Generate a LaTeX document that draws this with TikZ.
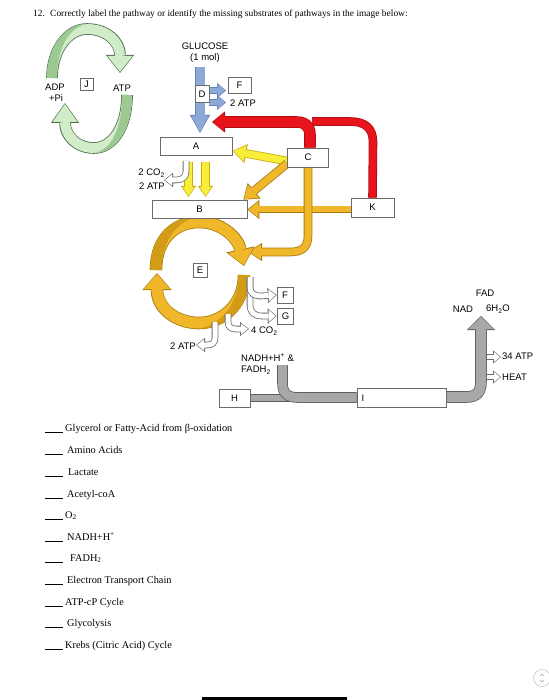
\documentclass[tikz,border=0pt]{standalone}
\usepackage{fontspec}
\setmainfont{Liberation Serif}
\newfontfamily\arial{Liberation Sans}
\usetikzlibrary{arrows.meta}
\pgfdeclarelayer{bg}
\pgfdeclarelayer{paper}
\pgfsetlayers{paper,bg,main}
\definecolor{grfill}{HTML}{D0ECC8}
\definecolor{grdark}{HTML}{9CC992}
\definecolor{grout}{HTML}{4F6F4C}
\definecolor{blfill}{HTML}{8DA9D8}
\definecolor{blout}{HTML}{6482B8}
\definecolor{rdfill}{HTML}{E8141C}
\definecolor{rdout}{HTML}{B00D12}
\definecolor{yefill}{HTML}{F8EE3A}
\definecolor{yeout}{HTML}{C9AE12}
\definecolor{orfill}{HTML}{F0B72A}
\definecolor{ordark}{HTML}{D29C17}
\definecolor{orout}{HTML}{A87C0C}
\definecolor{gyfill}{HTML}{A8A8A8}
\definecolor{gyout}{HTML}{5E5E5E}
\definecolor{whout}{HTML}{6E6E6E}
\definecolor{boxout}{HTML}{6A6A6A}
\newcommand\rib[6]{%
  \pgfmathsetmacro\ribwo{#3+1.6}%
  \pgfmathsetmacro\riblo{#4+2}%
  \pgfmathsetmacro\ribWo{#5+3.2}%
  \draw[draw=#2, line width=\ribwo pt, line join=round, -{Triangle[line width=0pt,length=\riblo pt,width=\ribWo pt]}] #6;
  \draw[draw=#1, line width=#3pt, line join=round, shorten >=1pt, -{Triangle[line width=0pt,length=#4pt,width=#5pt]}] #6;
}
\newcommand\ribn[4]{%
  \pgfmathsetmacro\ribwo{#3+1.6}%
  \draw[draw=#2, line width=\ribwo pt, line join=round] #4;
  \draw[draw=#1, line width=#3pt, line join=round] #4;
}
\tikzset{
  bx/.style={draw=boxout, fill=white, line width=0.7pt, inner sep=0pt, font=\arial\fontsize{9.5}{10}\selectfont},
  lab/.style={inner sep=0pt, font=\arial\fontsize{9.5}{10}\selectfont},
  item/.style={anchor=base west, inner sep=0pt, font=\fontsize{10.3}{12}\selectfont},
  ttl/.style={anchor=base west, inner sep=0pt, font=\fontsize{9.45}{11}\selectfont}
}
\begin{document}
\begin{tikzpicture}[x=1pt,y=-1pt]
\useasboundingbox (0,0) rectangle (548,700);
\begin{pgfonlayer}{paper}
\fill[white] (0,0) rectangle (548,700);
\end{pgfonlayer}

% title
\node[ttl] (title) at (33,17) {12.\hspace{0.55em}Correctly label the pathway or identify the missing substrates of pathways in the image below:};

% boxes
\node[bx, minimum width=13pt, minimum height=12pt] (J) at (86.5,84) {J};
\node[bx, minimum width=14pt, minimum height=17pt] (D) at (202,94) {D};
\node[bx, minimum width=23pt, minimum height=16pt] (F1) at (239.5,85) {F};
\node[bx, minimum width=72pt, minimum height=18pt] (A) at (196,146) {A};
\node[bx, minimum width=95pt, minimum height=18pt] (B) at (199.5,209) {B};
\node[bx, minimum width=41pt, minimum height=19pt] (C) at (308,157.5) {C};
\node[bx, minimum width=43pt, minimum height=19pt] (K) at (372.5,207.5) {K};
\node[bx, minimum width=14pt, minimum height=14pt] (E) at (200,270) {E};
\node[bx, minimum width=16pt, minimum height=16pt] (F2) at (285,295) {F};
\node[bx, minimum width=16pt, minimum height=16pt] (G) at (285.5,316) {G};
\node[bx, minimum width=31pt, minimum height=18pt] (H) at (234.5,398) {H};
\node[bx, minimum width=89pt, minimum height=19pt] (I) at (401.5,398) {};
\node[lab] (Ilab) at (363,398) {I};

% labels
\node[lab] (glu) at (205,46) {GLUCOSE};
\node[lab] (mol) at (205,58) {(1 mol)};
\node[lab] (atp1) at (243,103) {2 ATP};
\node[lab] (adp) at (55,87) {ADP};
\node[lab] (pi) at (56,98) {+Pi};
\node[lab] (atp0) at (122,88) {ATP};
\node[lab, anchor=east] (co2a) at (165,173) {2 CO\textsubscript{2}};
\node[lab, anchor=east] (atp2) at (165,186) {2 ATP};
\node[lab, anchor=east] (atp3) at (196,346) {2 ATP};
\node[lab, anchor=west] (co2b) at (251,331) {4 CO\textsubscript{2}};
\node[lab, anchor=west] (nadh) at (241,358) {NADH+H\textsuperscript{+} \&};
\node[lab, anchor=west] (fadh) at (241,370) {FADH\textsubscript{2}};
\node[lab] (fad) at (485,293) {FAD};
\node[lab] (nad) at (463,309) {NAD};
\node[lab] (h2o) at (498,309) {6H\textsubscript{2}O};
\node[lab, anchor=west] (atp34) at (502,356) {34 ATP};
\node[lab, anchor=west] (heat) at (502,377) {HEAT};

\begin{pgfonlayer}{bg}
% ATP-cP cycle
\rib{grfill}{grout}{10}{16}{25}{(52,78) .. controls (52,50) and (68,29) .. (87,29) .. controls (107,29) and (120,42) .. (120,73)}
\fill[grdark] (47,78) .. controls (47,47) and (65,24) .. (87,24) .. controls (68,27) and (57,50) .. (57,78) -- cycle;
\rib{grfill}{grout}{10}{18}{25}{(127,95) .. controls (127,128) and (112,148) .. (94,148) .. controls (76,148) and (65,135) .. (65,103)}
\fill[grdark] (132,95) .. controls (132,131) and (115,153) .. (94,153) .. controls (112,150) and (122,128) .. (122,95) -- cycle;
% glycolysis
\rib{blfill}{blout}{9}{16}{17}{(200,67) -- (200,133)}
\rib{blfill}{blout}{5}{7}{12}{(D.east |- 0,90.5) -- (226,90.5)}
\rib{blfill}{blout}{5}{7}{12}{(D.east |- 0,102.5) -- (226,102.5)}
% red
\ribn{rdfill}{rdout}{7}{(K.north) -- (373,142) .. controls (373,128) and (365,121.5) .. (350,121.5) -- (312,121.5)}
\rib{rdfill}{rdout}{10}{11}{18}{([xshift=2pt]C.north) -- (310,135) .. controls (310,126) and (305,122) .. (296,122) -- (212,122)}
% yellow / orange
\rib{yefill}{yeout}{7}{12}{16}{([yshift=-3.5pt]C.west) -- ([yshift=-5pt]A.east)}
\rib{orfill}{orout}{7}{12}{17}{([yshift=-6pt]C.west) -- ([xshift=-4pt]B.north east)}
\rib{orfill}{orout}{6}{10}{16}{([yshift=-2pt]K.west) -- ([yshift=-0.5pt]B.east)}
\rib{orfill}{orout}{7}{12}{15}{(C.south) -- (308,236) .. controls (308,248) and (301,252) .. (290,252) -- (248,252)}
\rib{yefill}{yeout}{7}{9}{12}{(188.5,162) -- (188.5,197)}
\rib{yefill}{yeout}{7}{9}{12}{(205.5,162) -- (205.5,197)}
\rib{white}{whout}{5}{7}{11}{(186,161) -- (186,172) .. controls (186,177) and (182,180) .. (176,180) -- (164,180)}
% Krebs
\rib{orfill}{orout}{11}{15}{26}{(156,270) .. controls (156,238) and (176,222) .. (199,222) .. controls (222,222) and (238,238) .. (244,266)}
\fill[ordark] (150.5,270) .. controls (150.5,235) and (173,216.5) .. (199,216.5) .. controls (178,220) and (161.5,240) .. (161.5,270) -- cycle;
\rib{orfill}{orout}{11}{15}{26}{(244,275) .. controls (244,305) and (222,323) .. (199,323) .. controls (176,323) and (157,308) .. (157,273)}
\fill[ordark] (249.5,275) .. controls (249.5,309) and (225,328.5) .. (199,328.5) .. controls (220,325) and (238.5,305) .. (238.5,275) -- cycle;
\rib{white}{whout}{5}{7}{12}{(250,277) -- (250,305) .. controls (250,312) and (254,316) .. (262,316) -- (F2.west |- G.west)}
\rib{white}{whout}{5}{7}{12}{(250,277) -- (250,287) .. controls (250,293) and (254,296) .. (260,296) -- (F2.west)}
\rib{white}{whout}{5}{7}{11}{(228,314) -- (228,322) .. controls (228,327) and (231,329) .. (236,329) -- (249,329)}
\rib{white}{whout}{5}{7}{11}{(215,322) -- (215,338) .. controls (215,343) and (212,345) .. (207,345) -- (196,345)}
% ETC
\ribn{gyfill}{gyout}{6}{(H.east) -- (I.west)}
\ribn{gyfill}{gyout}{9}{(282.5,365) -- (282.5,383) .. controls (282.5,393) and (287,397.5) .. (298,397.5) -- (I.west |- 0,397.5)}
\rib{gyfill}{gyout}{10}{12}{25}{(I.east |- 0,397) -- (466,397) .. controls (477,397) and (481,392) .. (481,381) -- (481,316)}
\rib{white}{whout}{4}{6}{10}{(487,357) -- (501,357)}
\rib{white}{whout}{4}{6}{10}{(487,377) -- (501,377)}
\end{pgfonlayer}

% list
\foreach \y/\x/\t [count=\i] in {
 431/65/{Glycerol or Fatty-Acid from β-oxidation},
 453/67/{Amino Acids},
 475/68/{Lactate},
 497/67/{Acetyl-coA},
 518/65/{O\textsubscript{2}},
 540/67/{NADH+H\textsuperscript{+}},
 561/70/{FADH\textsubscript{2}},
 583/67/{Electron Transport Chain},
 605/65/{ATP-cP Cycle},
 626/67/{Glycolysis},
 648/65/{Krebs (Citric Acid) Cycle}}{
  \node[item] (item\i) at (\x,\y) {\t};
  \draw[line width=0.6pt] (45,{\y+0.8}) -- (63,{\y+0.8});
}

% bottom bar and scroll icon
\fill[black] (202,696.5) rectangle (347,700);
\draw[gray!45, fill=white, line width=0.6pt] (542,678) circle (8.5);
\draw[gray!70, line width=0.6pt] (540,676) -- (542,674) -- (544,676);
\draw[gray!70, line width=0.6pt] (540,680) -- (542,682) -- (544,680);
\end{tikzpicture}
\end{document}
